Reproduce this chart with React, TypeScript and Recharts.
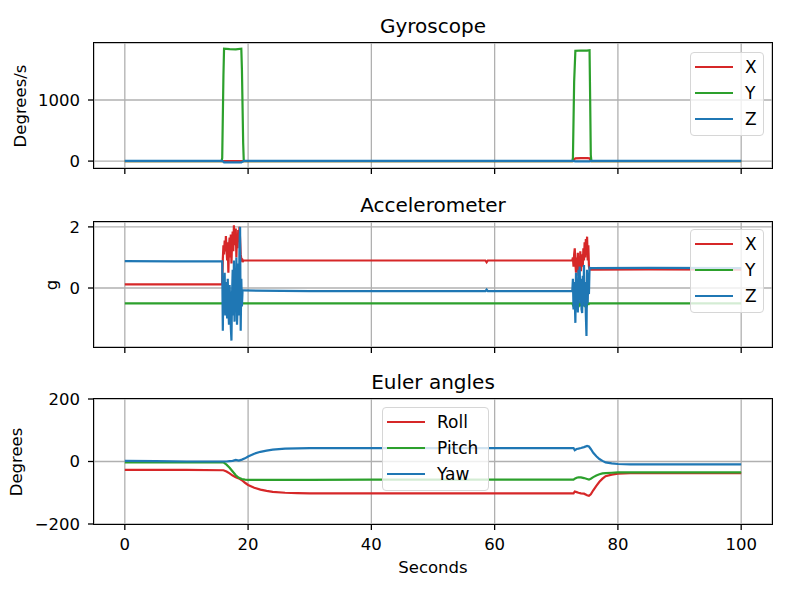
import React from 'react';
import { LineChart, Line, XAxis, YAxis, CartesianGrid } from 'recharts';

const FONT = '"DejaVu Sans", "Liberation Sans", sans-serif';
const RED = '#d62728';
const GREEN = '#2ca02c';
const BLUE = '#1f77b4';

const xTicks = [0, 20, 40, 60, 80, 100];

// gyroscope, degrees/s
const gyroTime = [0, 15.7, 15.8, 16.0, 16.1, 17.0, 18.0, 18.9, 19.0, 19.2, 19.3, 72.6, 72.7, 72.9, 73.1, 74.0, 75.0, 75.4, 75.5, 75.6, 75.7, 100];
const gyroX = [0, 0, 0, 0, 0, 0, 0, 0, 0, 0, 0, 0, 10, 30, 45, 48, 48, 45, 30, 10, 0, 0];
const gyroY = [0, 0, 50, 1400, 1840, 1832, 1830, 1840, 1500, 300, 0, 0, 50, 1300, 1805, 1810, 1808, 1815, 1000, 100, 0, 0];
const gyroZ = [2, 2, 0, -10, -20, -22, -22, -20, -15, -5, 2, 2, 2, 0, -5, -5, -5, -5, 0, 2, 2, 2];
const gyroTicks = [0, 1000];

// accelerometer, g
const accTime = [
  0, 8, 15.8,
  15.9, 16.0, 16.1, 16.2, 16.3, 16.4, 16.5, 16.6, 16.7, 16.8, 16.9, 17.0, 17.1, 17.2, 17.3, 17.4, 17.5,
  17.6, 17.7, 17.8, 17.9, 18.0, 18.1, 18.2, 18.3, 18.4, 18.5, 18.6, 18.7, 18.8, 18.9, 19.0, 19.1, 19.2,
  19.3, 30, 45, 58.5, 58.7, 58.9, 72.5,
  72.6, 72.7, 72.8, 72.9, 73.0, 73.1, 73.2, 73.3, 73.4, 73.5, 73.6, 73.7, 73.8, 73.9, 74.0,
  74.1, 74.2, 74.3, 74.4, 74.5, 74.6, 74.7, 74.8, 74.9, 75.0, 75.1, 75.2, 75.3, 75.4, 75.5,
  75.6, 85, 100,
];
const accX = [
  0.12, 0.12, 0.12,
  0.95, 1.4, 1.1, 1.55, 1.2, 1.7, 1.3, 0.9, 1.5, 0.5, 1.35, 1.65, 1.0, 1.75, 0.8, 1.5, 1.85,
  1.2, 2.05, 1.4, 1.6, 1.95, 1.0, 1.7, 1.3, 1.9, 1.5, 2.0, 1.6, 1.1, 0.95, 0.9, 0.92, 0.88,
  0.9, 0.9, 0.9, 0.9, 0.84, 0.9, 0.9,
  0.9, 1.0, 0.7, 1.1, 1.3, 0.8, 0.5, 1.0, 0.6, 1.15, 0.4, 0.9, 0.6, 1.2, 0.55,
  0.8, 1.1, 0.7, 1.3, 0.9, 1.5, 1.0, 1.6, 1.2, 1.68, 0.9, 1.4, 0.7, 0.62, 0.6,
  0.6, 0.61, 0.6,
];
const accY = [
  -0.5, -0.5, -0.5,
  -0.5, -0.55, -0.6, -0.5, -0.7, -0.55, -0.65, -0.5, -0.6, -0.72, -0.55, -0.6, -0.5, -0.65, -0.55, -0.5, -0.6,
  -0.5, -0.55, -0.5, -0.6, -0.5, -0.55, -0.5, -0.5, -0.52, -0.5, -0.48, -0.5, -0.5, -0.5, -0.5, -0.5, -0.5,
  -0.5, -0.5, -0.5, -0.5, -0.5, -0.5, -0.5,
  -0.5, -0.55, -0.5, -0.6, -0.5, -0.55, -0.6, -0.5, -0.55, -0.5, -0.6, -0.5, -0.55, -0.5, -0.6,
  -0.5, -0.55, -0.5, -0.6, -0.5, -0.55, -0.5, -0.6, -0.5, -0.55, -0.5, -0.5, -0.52, -0.5, -0.5,
  -0.5, -0.5, -0.5,
];
const accZ = [
  0.88, 0.87, 0.87,
  -1.4, 0.4, -0.6, 0.5, -0.9, 0.2, -0.5, -1.0, 0.3, -0.7, -1.2, 0.1, -0.4, -1.3, -1.72, -0.2, 0.6,
  -0.9, 0.9, -1.1, 0.4, -0.3, 1.0, -1.2, -0.6, 0.8, -0.9, 1.3, 2.0, -1.4, 0.3, -0.6, -0.1, -0.08,
  -0.08, -0.1, -0.1, -0.1, -0.05, -0.1, -0.1,
  -0.1, 0.3, -0.7, 0.2, -0.4, -1.14, 0.5, -0.6, 0.1, -0.8, 0.6, -0.3, 0.7, -0.5, 0.3,
  -0.7, -0.82, 0.4, -0.4, 0.75, -0.6, 0.2, -0.9, -1.57, 0.6, -0.5, 0.5, -0.2, 0.66, 0.64,
  0.65, 0.66, 0.65,
];
const accTicks = [0, 2];

// euler angles, degrees
const eulerTime = [0, 5, 10, 16, 16.5, 17, 17.5, 18, 18.5, 19, 19.5, 20, 21, 22, 23, 24, 26, 28, 30, 40, 50, 60, 70, 72.8, 73.0, 73.3, 73.6, 74.0, 74.5, 75.0, 75.3, 75.6, 76, 76.5, 77, 77.5, 78, 79, 80, 82, 85, 90, 100];
const roll = [-27, -27, -27, -28, -32, -38, -45, -50, -54, -60, -68, -75, -84, -90, -94, -97, -100, -101, -102, -102, -102, -102, -102, -102, -96, -98, -100, -102, -103, -108, -110, -105, -92, -78, -65, -55, -47, -42, -39, -37, -37, -37, -37];
const pitch = [-3, -3, -3, -3, -10, -20, -32, -44, -52, -56, -58, -59, -59, -59, -59, -59, -59, -59, -59, -58, -58, -58, -58, -58, -55, -52, -51, -51, -53, -56, -58, -55, -50, -45, -41, -38, -37, -36, -35, -35, -35, -35, -35];
const yaw = [2, 1, 0, 0, 0, 1, 2, 5, 3, 6, 10, 16, 25, 31, 35, 38, 41, 42, 43, 43, 43, 43, 43, 43, 36, 40, 41, 43, 46, 50, 48, 40, 28, 17, 8, 2, -3, -6, -8, -9, -9, -9, -9];
const eulerTicks = [-200, 0, 200];

const xyzNames = ['X', 'Y', 'Z'];
const eulerNames = ['Roll', 'Pitch', 'Yaw'];
const colors = [RED, GREEN, BLUE];

const buildRows = (t: number[], series: number[][]) =>
  t.map((x, i) => {
    const row: Record<string, number> = { t: x };
    series.forEach((s, k) => (row['s' + k] = s[i]));
    return row;
  });

const fmt = (v: number) => (v < 0 ? '\u2212' + Math.abs(v) : String(v));

const PLOT_LEFT = 94;
const PLOT_W = 678;
const PLOT_H = 125;
const PAD_TOP = 14;

type PanelProps = {
  top: number;
  rows: Record<string, number>[];
  names: string[];
  yDomain: [number, number];
  yTicks: number[];
  xLabels: boolean;
};

const Panel = ({ top, rows, names, yDomain, yTicks, xLabels }: PanelProps) => (
  <div style={{ position: 'absolute', left: 0, top: top - PAD_TOP }}>
    <LineChart
      width={786}
      height={PLOT_H + 30 + PAD_TOP}
      data={rows}
      margin={{ top: PAD_TOP, right: 786 - PLOT_LEFT - PLOT_W, bottom: 0, left: 0 }}
    >
      <CartesianGrid stroke="#b0b0b0" strokeWidth={1.3} />
      <XAxis
        dataKey="t"
        type="number"
        domain={[-5, 105]}
        ticks={xTicks}
        interval={0}
        allowDataOverflow
        height={30}
        axisLine={false}
        tickLine={{ stroke: '#000', strokeWidth: 1.3 }}
        tickSize={6}
        tickMargin={8}
        tick={{ fill: '#000', fontSize: 16.5, fontFamily: FONT }}
        tickFormatter={xLabels ? (v: number) => String(v) : () => ''}
      />
      <YAxis
        type="number"
        domain={yDomain}
        ticks={yTicks}
        interval={0}
        allowDataOverflow
        width={PLOT_LEFT}
        axisLine={false}
        tickLine={{ stroke: '#000', strokeWidth: 1.3 }}
        tickSize={6}
        tickMargin={8}
        tick={{ fill: '#000', fontSize: 16.5, fontFamily: FONT }}
        tickFormatter={fmt}
      />
      {names.map((n, k) => (
        <Line
          key={n}
          dataKey={'s' + k}
          name={n}
          type="linear"
          stroke={colors[k]}
          strokeWidth={2.2}
          dot={false}
          isAnimationActive={false}
        />
      ))}
    </LineChart>
    <div
      style={{
        position: 'absolute',
        left: PLOT_LEFT - 0.7,
        top: PAD_TOP - 0.7,
        width: PLOT_W + 1.4,
        height: PLOT_H + 1.4,
        border: '1.4px solid #000',
        boxSizing: 'border-box',
        pointerEvents: 'none',
      }}
    />
  </div>
);

const LegendBox = ({ left, top, width, names }: { left: number; top: number; width: number; names: string[] }) => (
  <div
    style={{
      position: 'absolute',
      left,
      top,
      width,
      height: 84,
      background: 'rgba(255,255,255,0.8)',
      border: '1px solid #d6d6d6',
      borderRadius: 4,
      boxSizing: 'border-box',
      paddingTop: 1,
      fontFamily: FONT,
      fontSize: 17,
    }}
  >
    {names.map((n, k) => (
      <div key={n} style={{ display: 'flex', alignItems: 'center', height: 26 }}>
        <div style={{ marginLeft: 4, width: 38, height: 2.2, background: colors[k] }} />
        <div style={{ marginLeft: 12, color: '#000' }}>{n}</div>
      </div>
    ))}
  </div>
);

const Title = ({ text, top }: { text: string; top: number }) => (
  <div
    style={{
      position: 'absolute',
      left: PLOT_LEFT,
      width: PLOT_W,
      top,
      textAlign: 'center',
      fontFamily: FONT,
      fontSize: 20,
      lineHeight: '20px',
      color: '#000',
    }}
  >
    {text}
  </div>
);

const YLabel = ({ text, x, y }: { text: string; x: number; y: number }) => (
  <div
    style={{
      position: 'absolute',
      left: x,
      top: y,
      transform: 'translate(-50%, -50%) rotate(-90deg)',
      fontFamily: FONT,
      fontSize: 16.5,
      lineHeight: '17px',
      whiteSpace: 'nowrap',
      color: '#000',
    }}
  >
    {text}
  </div>
);

export default function App() {
  const gyroRows = buildRows(gyroTime, [gyroX, gyroY, gyroZ]);
  const accRows = buildRows(accTime, [accX, accY, accZ]);
  const eulerRows = buildRows(eulerTime, [roll, pitch, yaw]);

  return (
    <div style={{ position: 'absolute', left: 0, top: 0, width: 786, height: 590, background: '#fff', overflow: 'hidden' }}>
      <Title text="Gyroscope" top={16} />
      <Panel top={43} rows={gyroRows} names={xyzNames} yDomain={[-113, 1933]} yTicks={gyroTicks} xLabels={false} />
      <YLabel text="Degrees/s" x={20} y={105.5} />
      <LegendBox left={690} top={52} width={74} names={xyzNames} />

      <Title text="Accelerometer" top={195} />
      <Panel top={222} rows={accRows} names={xyzNames} yDomain={[-1.93, 2.16]} yTicks={accTicks} xLabels={false} />
      <YLabel text="g" x={51} y={284.5} />
      <LegendBox left={690} top={229} width={74} names={xyzNames} />

      <Title text="Euler angles" top={372} />
      <Panel top={399} rows={eulerRows} names={eulerNames} yDomain={[-200, 200]} yTicks={eulerTicks} xLabels />
      <YLabel text="Degrees" x={16} y={461.5} />
      <LegendBox left={382} top={407} width={107} names={eulerNames} />

      <div
        style={{
          position: 'absolute',
          left: PLOT_LEFT,
          width: PLOT_W,
          top: 559,
          textAlign: 'center',
          fontFamily: FONT,
          fontSize: 16.5,
          lineHeight: '17px',
          color: '#000',
        }}
      >
        Seconds
      </div>
    </div>
  );
}
